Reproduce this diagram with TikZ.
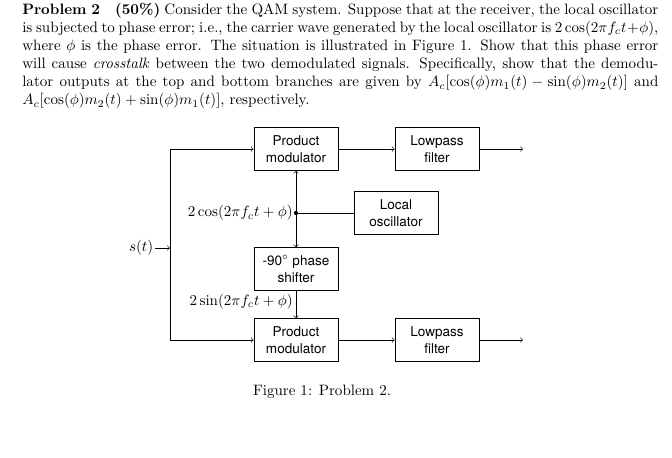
\documentclass[tikz,border=0pt]{standalone}
\usepackage{fontspec}
\newfontfamily\boxfont{TeX Gyre Heros}
\usetikzlibrary{positioning}

\begin{document}
\begin{tikzpicture}[x=0.665pt, y=-0.665pt, >=to,
		blk/.style={draw, minimum width=56pt, minimum height=28.5pt, align=center, font=\boxfont\small, inner sep=1pt},
		sig/.style={->}]
	\useasboundingbox (0,0) rectangle (672,457);
	\node [anchor=north west, text width=423pt, align=justify, inner sep=0pt] (txt) at (22,3) {%
		\textbf{Problem 2\quad(50\%)} Consider the QAM system. Suppose that at the receiver, the local oscillator is subjected to phase error; i.e., the carrier wave generated by the local oscillator is $2\cos(2\pi f_ct+\phi)$, where $\phi$ is the phase error. The situation is illustrated in Figure 1. Show that this phase error will cause \emph{crosstalk} between the two demodulated signals. Specifically, show that the demodu\-lator outputs at the top and bottom branches are given by $A_c[\cos(\phi)m_1(t)-\sin(\phi)m_2(t)]$ and $A_c[\cos(\phi)m_2(t)+\sin(\phi)m_1(t)]$, respectively.};

		\node [blk] (PM1) at (296,149) {Product\\modulator};
		\node [blk] (LP1) at (437,149) {Lowpass\\filter};
		\node [blk] (LO) at (396,213) {Local\\oscillator};
		\node [blk] (PS) at (296,269) {-90$^\circ$ phase\\shifter};
		\node [blk] (PM2) at (296,340) {Product\\modulator};
		\node [blk] (LP2) at (437,340) {Lowpass\\filter};
		\node [anchor=east, inner sep=1pt] (s) at (155,248) {$s(t)$};
		\coordinate (split) at (170,248);
		\coordinate (dot) at (PM1.south |- LO.west);
		\coordinate (o1) at (523,149);
		\coordinate (o2) at (523,340);

		\draw [sig] (s) -- (split);
		\draw [sig] (split) |- (PM1);
		\draw [sig] (split) |- (PM2);
		\draw [sig] (PM1) -- (LP1);
		\draw [sig] (PM2) -- (LP2);
		\draw [sig] (LP1) -- (o1);
		\draw [sig] (LP2) -- (o2);
		\draw (LO) -- (dot);
		\draw [sig] (dot) -- (PM1);
		\draw [sig] (dot) -- (PS);
		\draw [sig] (PS) -- node [left, pos=0.4, inner sep=2pt] (lsin) {$2\sin(2\pi f_ct+\phi)$} (PM2);
		\fill (dot) circle (1.4pt);
		\node [left, inner sep=2pt] (lcos) at (dot) {$2\cos(2\pi f_ct+\phi)$};

		\node (cap) at (322,392) {Figure 1: Problem 2.};
	\end{tikzpicture}
\end{document}
